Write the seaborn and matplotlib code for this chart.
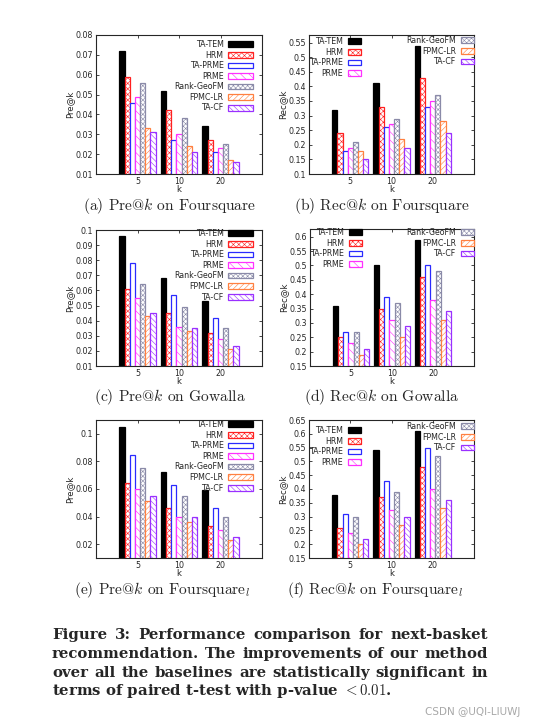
"""Next-basket recommendation: Pre@k / Rec@k grouped bars (gnuplot look)"""
import matplotlib
matplotlib.use('Agg')
import matplotlib.pyplot as plt
from matplotlib.patches import Patch
from matplotlib.ticker import FuncFormatter, MultipleLocator
import pandas as pd
import seaborn as sns

ks = ['5', '10', '20']
methods = ['TA-TEM', 'HRM', 'TA-PRME', 'PRME', 'Rank-GeoFM', 'FPMC-LR', 'TA-CF']

# one row per method, values at k = 5, 10, 20
pre_foursquare = [[0.072, 0.052, 0.034], [0.059, 0.042, 0.027], [0.046, 0.027, 0.021],
                  [0.049, 0.030, 0.023], [0.056, 0.038, 0.025], [0.033, 0.024, 0.017],
                  [0.031, 0.021, 0.016]]
rec_foursquare = [[0.32, 0.41, 0.54], [0.24, 0.33, 0.43], [0.18, 0.26, 0.33],
                  [0.19, 0.27, 0.35], [0.21, 0.29, 0.37], [0.18, 0.22, 0.28],
                  [0.15, 0.19, 0.24]]
pre_gowalla = [[0.096, 0.068, 0.053], [0.061, 0.045, 0.032], [0.078, 0.057, 0.042],
               [0.055, 0.036, 0.028], [0.064, 0.049, 0.035], [0.043, 0.033, 0.021],
               [0.045, 0.035, 0.023]]
rec_gowalla = [[0.36, 0.50, 0.59], [0.25, 0.35, 0.46], [0.27, 0.39, 0.50],
               [0.23, 0.31, 0.38], [0.27, 0.37, 0.48], [0.19, 0.25, 0.31],
               [0.21, 0.29, 0.34]]
pre_foursquare_l = [[0.105, 0.072, 0.059], [0.064, 0.046, 0.033], [0.085, 0.063, 0.046],
                    [0.060, 0.040, 0.030], [0.075, 0.055, 0.040], [0.051, 0.036, 0.023],
                    [0.055, 0.040, 0.025]]
rec_foursquare_l = [[0.38, 0.54, 0.61], [0.26, 0.37, 0.48], [0.31, 0.43, 0.55],
                    [0.24, 0.325, 0.40], [0.30, 0.39, 0.52], [0.20, 0.27, 0.33],
                    [0.22, 0.30, 0.36]]

styles = {
    'TA-TEM': dict(facecolor='black', edgecolor='black', hatch=None),
    'HRM': dict(facecolor='white', edgecolor='#ff2020', hatch='xxxxxx'),
    'TA-PRME': dict(facecolor='white', edgecolor='#2a2aff', hatch=None),
    'PRME': dict(facecolor='white', edgecolor='#ff30ff', hatch='\\\\\\\\'),
    'Rank-GeoFM': dict(facecolor='white', edgecolor='#8a8aa8', hatch='xxxxxxx'),
    'FPMC-LR': dict(facecolor='white', edgecolor='#ff8040', hatch='//////'),
    'TA-CF': dict(facecolor='white', edgecolor='#9a30ff', hatch='\\\\\\\\\\\\'),
}

sns.set_style('ticks')
plt.rcParams['font.family'] = ['DejaVu Sans']
plt.rcParams['mathtext.fontset'] = 'cm'
plt.rcParams['hatch.linewidth'] = 0.4

W, H = 534, 727
fig = plt.figure(figsize=(W / 100, H / 100), dpi=100)


def px_axes(l, t, r, b):
    return fig.add_axes([l / W, 1 - b / H, (r - l) / W, (b - t) / H])


def draw(ax, data, ylim, step, ylabel, split, drop):
    rows = [(k, m, v) for m, vals in zip(methods, data) for k, v in zip(ks, vals)]
    df = pd.DataFrame(rows, columns=['k', 'method', 'value'])
    sns.barplot(data=df, x='k', y='value', hue='method', order=ks, hue_order=methods,
                width=0.875, saturation=1, errorbar=None, legend=False, ax=ax)
    for container, m in zip(ax.containers, methods):
        for bar in container:
            bar.set(linewidth=0.9, **styles[m])
    ax.set_xlim(-1, 3)
    ax.set_ylim(*ylim)
    ax.yaxis.set_major_locator(MultipleLocator(step))
    ax.yaxis.set_major_formatter(FuncFormatter(lambda v, p: f'{round(v, 4):g}'))
    ax.tick_params(direction='in', top=True, right=True, length=2.5, width=0.6,
                   labelsize=5.7, pad=2)
    for s in ax.spines.values():
        s.set_linewidth(0.8)
    ax.set_xlabel('k', fontsize=6.2, labelpad=-0.5)
    ax.set_ylabel(ylabel, fontsize=6.2, labelpad=1)

    handles = [Patch(linewidth=0.9, **styles[m]) for m in methods]
    kw = dict(frameon=False, markerfirst=False, fontsize=5.7, handleheight=0.72,
              labelspacing=0.2, handletextpad=0.6, borderaxespad=0, borderpad=0)
    h_ax = ax.get_window_extent().height
    if split:
        first = ax.legend(handles[:4], methods[:4], loc='upper left', handlelength=1.7,
                          bbox_to_anchor=(0, 1 - drop[0] / h_ax), **kw)
        ax.add_artist(first)
        ax.legend(handles[4:], methods[4:], loc='upper right', handlelength=1.7,
                  bbox_to_anchor=(1, 1 - drop[1] / h_ax), **kw)
    else:
        ax.legend(handles, methods, loc='upper right', handlelength=3.1,
                  bbox_to_anchor=(1 - 9 / ax.get_window_extent().width, 1 - drop[0] / h_ax),
                  **kw)


panels = [
    (pre_foursquare, (96, 35, 262, 174), (0.01, 0.08), 0.01, 'Pre@k', False, (5, 0)),
    (rec_foursquare, (309, 35, 474, 174), (0.1, 0.576), 0.05, 'Rec@k', True, (2, 1)),
    (pre_gowalla, (96, 230, 262, 366), (0.01, 0.1), 0.01, 'Pre@k', False, (-1, 0)),
    (rec_gowalla, (310, 229, 474, 366), (0.15, 0.627), 0.05, 'Rec@k', True, (-1, -1)),
    (pre_foursquare_l, (96, 420, 262, 558), (0.01, 0.11), 0.02, 'Pre@k', False, (0, 0)),
    (rec_foursquare_l, (309, 420, 474, 558), (0.15, 0.65), 0.05, 'Rec@k', True, (6, 2)),
]
for data, rect, ylim, step, ylabel, split, drop in panels:
    draw(px_axes(*rect), data, ylim, step, ylabel, split, drop)

serif = ['cmr10', 'DejaVu Serif']
subcaptions = [
    (170, 206, r'(a) Pre@$k$ on Foursquare'),
    (382, 206, r'(b) Rec@$k$ on Foursquare'),
    (170, 397, r'(c) Pre@$k$ on Gowalla'),
    (382, 397, r'(d) Rec@$k$ on Gowalla'),
    (162, 590, r'(e) Pre@$k$ on Foursquare$_l$'),
    (375, 590, r'(f) Rec@$k$ on Foursquare$_l$'),
]
for x, y, s in subcaptions:
    fig.text(x / W, 1 - y / H, s, ha='center', va='center', fontsize=11.2, family=serif)

caption = [
    'Figure 3: Performance comparison for next-basket',
    'recommendation. The improvements of our method',
    'over all the baselines are statistically significant in',
    r'terms of paired t-test with p-value $<0.01$.',
]
bold = dict(fontsize=10.7, family='DejaVu Serif', weight='bold')
renderer = fig.canvas.get_renderer()
left, right = 52, 488
for i, line in enumerate(caption):
    y = 1 - (635 + 18.8 * i) / H
    if i == len(caption) - 1:
        fig.text(left / W, y, line, ha='left', va='center', **bold)
        continue
    # justified like the LaTeX caption: spread the words over the full width
    words = [fig.text(0, y, w, ha='left', va='center', **bold) for w in line.split(' ')]
    widths = [t.get_window_extent(renderer).width for t in words]
    gap = (right - left - sum(widths)) / (len(words) - 1)
    x = left
    for t, w in zip(words, widths):
        t.set_x(x / W)
        x += w + gap

fig.text(520 / W, 1 - 712 / H, 'CSDN @UQI-LIUWJ', ha='right', va='center',
         fontsize=7.5, color='#a8a8a8')

fig.savefig('out.png', dpi=100)
